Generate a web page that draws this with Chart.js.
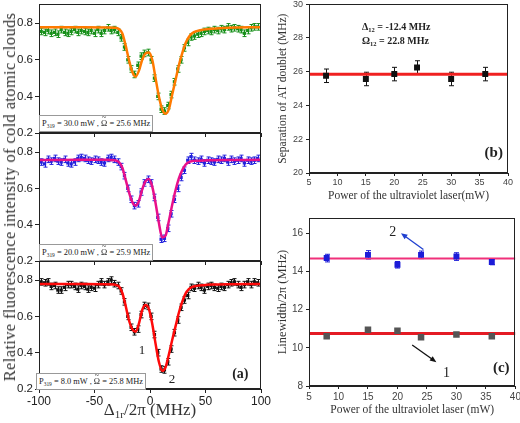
<!DOCTYPE html>
<html>
<head>
<meta charset="utf-8">
<script src="https://cdn.jsdelivr.net/npm/chart.js@4.4.0/dist/chart.umd.min.js"></script>
<style>
  body { margin: 0; background: #fff; }
  #wrap { position: relative; width: 520px; height: 423px; overflow: hidden; font-family: 'Liberation Serif', 'Times New Roman', serif; color: #333; }
  canvas { position: absolute; left: 0; top: 0; }
  .box { position: absolute; border: 1px solid #999; background: #fff; font-size: 8.4px; line-height: 15px; height: 15px; padding: 0 2px; white-space: nowrap; color: #222; }
  .box sub, .note sub, .title sub { font-size: 65%; line-height: 0; vertical-align: -0.3em; }
  .tl { position: relative; display: inline-block; }
  .tl::before { content: '~'; position: absolute; left: 0; right: 0; top: -6px; text-align: center; font-size: 8px; }
  .note { position: absolute; font-weight: bold; font-size: 10px; line-height: 13.5px; color: #222; white-space: nowrap; }
  .title { position: absolute; white-space: nowrap; color: #333; }
</style>
</head>
<body>
<div id="wrap">
  <canvas id="a1" width="520" height="423"></canvas>
  <canvas id="a2" width="520" height="423"></canvas>
  <canvas id="a3" width="520" height="423"></canvas>
  <canvas id="b" width="520" height="423"></canvas>
  <canvas id="c" width="520" height="423"></canvas>

  <div class="box" style="left:39px; top:115px;">P<sub>319</sub> = 30.0 mW , <span class="tl">Ω</span> = 25.6 MHz</div>
  <div class="box" style="left:39px; top:244px;">P<sub>319</sub> = 20.0 mW , <span class="tl">Ω</span> = 25.9 MHz</div>
  <div class="box" style="left:36px; top:373px;">P<sub>319</sub> = 8.0 mW , <span class="tl">Ω</span> = 25.8 MHz</div>

  <div class="note" style="left:362px; top:20px;">Δ<sub>12</sub> = -12.4 MHz<br>Ω<sub>12</sub> = 22.8 MHz</div>

  <div class="title" style="left:10px; top:197px; font-size:16.5px; letter-spacing:0.35px; transform: translate(-50%, -50%) rotate(-90deg);">Relative fluorescence intensity of cold atomic clouds</div>
  <div class="title" style="left:150px; top:410px; font-size:17px; transform: translate(-50%, -50%);">Δ<sub>1r</sub>/2π (MHz)</div>
</div>

<script>
// Spectra, panel (a): detuning in MHz, shared by the three measurements
const detuning = [-98, -95, -92, -89, -86, -83, -80, -77, -74, -71,
  -68, -65, -62, -59, -56, -53, -50, -47, -44, -41,
  -38, -35, -32, -29, -26, -23, -20, -17, -14, -11,
  -8, -5, -2, 1, 4, 7, 10, 13, 16, 19,
  22, 25, 28, 31, 34, 37, 40, 43, 46, 49,
  52, 55, 58, 61, 64, 67, 70, 73, 76, 79,
  82, 85, 88, 91, 94, 97];

const green30 = [0.755, 0.75, 0.76, 0.745, 0.75, 0.74, 0.765, 0.75, 0.745, 0.755,
  0.765, 0.75, 0.76, 0.755, 0.75, 0.76, 0.745, 0.765, 0.745, 0.76,
  0.775, 0.76, 0.765, 0.75, 0.72, 0.67, 0.6, 0.55, 0.52, 0.57,
  0.62, 0.635, 0.64, 0.6, 0.5, 0.4, 0.33, 0.32, 0.35, 0.41,
  0.48, 0.55, 0.6, 0.665, 0.695, 0.725, 0.73, 0.74, 0.745, 0.755,
  0.76, 0.755, 0.765, 0.76, 0.77, 0.765, 0.78, 0.77, 0.775, 0.77,
  0.765, 0.745, 0.76, 0.775, 0.78, 0.78];

const blue20 = [0.745, 0.735, 0.76, 0.75, 0.765, 0.75, 0.745, 0.76, 0.74, 0.735,
  0.745, 0.765, 0.77, 0.765, 0.755, 0.75, 0.76, 0.755, 0.745, 0.74,
  0.765, 0.77, 0.76, 0.745, 0.72, 0.67, 0.6, 0.54, 0.505, 0.515,
  0.58, 0.63, 0.65, 0.63, 0.55, 0.44, 0.32, 0.325, 0.38, 0.46,
  0.54, 0.6, 0.66, 0.7, 0.755, 0.775, 0.755, 0.75, 0.76, 0.74,
  0.755, 0.75, 0.745, 0.76, 0.755, 0.765, 0.745, 0.76, 0.75, 0.755,
  0.765, 0.74, 0.755, 0.75, 0.755, 0.765];

const black8 = [0.79, 0.785, 0.79, 0.765, 0.77, 0.745, 0.745, 0.76, 0.775, 0.775,
  0.765, 0.75, 0.77, 0.765, 0.75, 0.76, 0.755, 0.775, 0.79, 0.775,
  0.79, 0.8, 0.78, 0.77, 0.74, 0.68, 0.6, 0.54, 0.515, 0.53,
  0.61, 0.66, 0.655, 0.6, 0.5, 0.4, 0.31, 0.305, 0.35, 0.42,
  0.51, 0.58, 0.65, 0.69, 0.715, 0.76, 0.755, 0.77, 0.76, 0.745,
  0.765, 0.77, 0.76, 0.755, 0.765, 0.76, 0.775, 0.785, 0.79, 0.775,
  0.76, 0.775, 0.79, 0.775, 0.79, 0.785];

const spectrumErr = 0.018;

// Fitted curves
const fitDetuning = [-100, -60, -40, -32, -28, -25, -22, -19, -16, -13, -10, -7, -4, -1, 2, 5,
  8, 11, 14, 17, 20, 23, 26, 29, 32, 35, 38, 42, 48, 56, 70, 100];
const fitOrange30 = [0.778, 0.778, 0.777, 0.775, 0.768, 0.745, 0.68, 0.6, 0.535, 0.508, 0.54, 0.6, 0.635, 0.64, 0.6, 0.5,
  0.4, 0.33, 0.305, 0.33, 0.41, 0.49, 0.57, 0.635, 0.69, 0.725, 0.745, 0.757, 0.765, 0.77, 0.775, 0.778];
const fitMagenta20 = [0.756, 0.757, 0.757, 0.755, 0.745, 0.715, 0.65, 0.58, 0.525, 0.505, 0.53, 0.595, 0.64, 0.652, 0.61, 0.52,
  0.41, 0.33, 0.34, 0.42, 0.51, 0.59, 0.655, 0.7, 0.73, 0.745, 0.75, 0.752, 0.754, 0.755, 0.756, 0.757];
const fitRed8 = [0.778, 0.778, 0.777, 0.775, 0.765, 0.73, 0.66, 0.58, 0.53, 0.515, 0.56, 0.635, 0.662, 0.64, 0.56, 0.45,
  0.35, 0.3, 0.32, 0.39, 0.47, 0.545, 0.62, 0.68, 0.725, 0.75, 0.762, 0.768, 0.772, 0.775, 0.777, 0.778];

// Panels (b) and (c)
const powers = [8, 15, 20, 24, 30, 36];
const separation = [25.76, 25.57, 25.86, 26.25, 25.57, 25.86];
const separationErr = [0.4, 0.4, 0.4, 0.4, 0.4, 0.4];
const separationMean = 25.85;
const width2 = [14.7, 14.87, 14.35, 14.87, 14.78, 14.5];
const width2Err = [0.2, 0.22, 0.17, 0.2, 0.2, 0.15];
const width2Mean = 14.68;
const width1 = [10.6, 10.95, 10.9, 10.55, 10.7, 10.6];
const width1Err = [0.07, 0.07, 0.07, 0.07, 0.07, 0.07];
const width1Mean = 10.75;

// Tick labels
const specTicksX = [-100, -50, 0, 50, 100];
const specTicksY = [0.2, 0.4, 0.6, 0.8];
const powerTicksX = [5, 10, 15, 20, 25, 30, 35, 40];
const sepTicksY = [20, 22, 24, 26, 28, 30];
const lwTicksY = [8, 10, 12, 14, 16];

Chart.defaults.font.family = "'Liberation Sans', Arial, sans-serif";
Chart.defaults.color = '#222';

function pts(xs, ys) {
  return xs.map((x, i) => ({ x: x, y: ys[i] }));
}
function flat(y) {
  return [{ x: powerTicksX[0], y: y }, { x: powerTicksX[powerTicksX.length - 1], y: y }];
}

// error bars from dataset.errors (number or array)
const errorBars = {
  id: 'errorBars',
  beforeDatasetsDraw(chart) {
    const { ctx, scales: { x, y } } = chart;
    chart.data.datasets.forEach(ds => {
      if (ds.errors === undefined) return;
      ctx.save();
      ctx.strokeStyle = ds.borderColor;
      ctx.lineWidth = 1;
      const cap = ds.cap || 2;
      ds.data.forEach((p, j) => {
        const e = Array.isArray(ds.errors) ? ds.errors[j] : ds.errors;
        const px = Math.round(x.getPixelForValue(p.x)) + 0.5;
        const top = y.getPixelForValue(p.y + e);
        const bot = y.getPixelForValue(p.y - e);
        ctx.beginPath();
        ctx.moveTo(px, top); ctx.lineTo(px, bot);
        ctx.moveTo(px - cap, top); ctx.lineTo(px + cap, top);
        ctx.moveTo(px - cap, bot); ctx.lineTo(px + cap, bot);
        ctx.stroke();
      });
      ctx.restore();
    });
  }
};

// closed frame round the plot area
const frame = {
  id: 'frame',
  afterDraw(chart) {
    const { ctx, chartArea: a } = chart;
    ctx.save();
    ctx.strokeStyle = '#222';
    ctx.lineWidth = 1;
    ctx.strokeRect(Math.round(a.left) + 0.5, Math.round(a.top) + 0.5, Math.round(a.width) - 1, Math.round(a.height) - 1);
    ctx.restore();
  }
};

// text labels and arrows placed in data units
function makeNotes(texts, arrows) {
  return {
    id: 'notes',
    afterDraw(chart) {
      const { ctx, scales: { x, y } } = chart;
      ctx.save();
      (arrows || []).forEach(ar => {
        const x1 = x.getPixelForValue(ar.from[0]), y1 = y.getPixelForValue(ar.from[1]);
        const x2 = x.getPixelForValue(ar.to[0]), y2 = y.getPixelForValue(ar.to[1]);
        const ang = Math.atan2(y2 - y1, x2 - x1);
        ctx.strokeStyle = ar.color;
        ctx.fillStyle = ar.color;
        ctx.lineWidth = 1.3;
        ctx.beginPath();
        ctx.moveTo(x1, y1);
        ctx.lineTo(x2 - 5 * Math.cos(ang), y2 - 5 * Math.sin(ang));
        ctx.stroke();
        ctx.beginPath();
        ctx.moveTo(x2, y2);
        ctx.lineTo(x2 - 7 * Math.cos(ang - 0.4), y2 - 7 * Math.sin(ang - 0.4));
        ctx.lineTo(x2 - 7 * Math.cos(ang + 0.4), y2 - 7 * Math.sin(ang + 0.4));
        ctx.closePath();
        ctx.fill();
      });
      texts.forEach(t => {
        ctx.font = t.font;
        ctx.fillStyle = t.color || '#222';
        ctx.textAlign = 'center';
        ctx.textBaseline = 'middle';
        ctx.fillText(t.text, x.getPixelForValue(t.at[0]), y.getPixelForValue(t.at[1]));
      });
      ctx.restore();
    }
  };
}

function axis(o) {
  const s = {
    type: 'linear',
    min: o.min,
    max: o.max,
    afterBuildTicks: sc => { sc.ticks = o.ticks.map(v => ({ value: v })); },
    afterFit: sc => {
      if (sc.isHorizontal()) { sc.height = o.size; sc.paddingLeft = 0; sc.paddingRight = 0; }
      else { sc.width = o.size; sc.paddingTop = 0; sc.paddingBottom = 0; }
    },
    grid: { drawOnChartArea: false, tickLength: o.tick || 4, color: '#222' },
    border: { color: '#222' },
    ticks: {
      autoSkip: false, maxRotation: 0, padding: o.pad === undefined ? 2 : o.pad,
      font: { size: o.font }, color: o.color || '#222',
      callback: o.label || (v => v)
    },
    title: o.title
      ? { display: true, text: o.title, padding: 0, color: '#333', font: { family: "'Liberation Serif', serif", size: o.titleSize } }
      : { display: false }
  };
  s.sizeUsed = o.size;
  return s;
}

// area = [left, right, top, bottom] of the plot box in page pixels
function makeChart(id, area, x, y, datasets, notes) {
  const padding = { left: area[0] - y.sizeUsed, right: 520 - area[1], top: area[2], bottom: 423 - area[3] - x.sizeUsed };
  delete x.sizeUsed; delete y.sizeUsed;
  return new Chart(document.getElementById(id), {
    type: 'scatter',
    data: { datasets: datasets },
    options: {
      responsive: false,
      animation: false,
      devicePixelRatio: 1,
      events: [],
      layout: { padding: padding },
      plugins: { legend: { display: false }, tooltip: { enabled: false } },
      scales: { x: x, y: y }
    },
    plugins: [errorBars, frame, notes]
  });
}

function specAxes(withLabels) {
  return {
    x: axis({ min: -100, max: 100, ticks: specTicksX, size: withLabels ? 22 : 8, font: 12, pad: 1,
      label: withLabels ? (v => v) : (() => '') }),
    y: axis({ min: 0.2, max: 0.905, ticks: specTicksY, size: 37, font: 11.5, pad: 2, label: v => v.toFixed(1) })
  };
}

function spectrum(xs, ys, color, fitYs, fitColor) {
  return [
    { data: pts(fitDetuning, fitYs), showLine: true, borderColor: fitColor, borderWidth: 2.5,
      pointRadius: 0, cubicInterpolationMode: 'monotone' },
    { data: pts(xs, ys), errors: spectrumErr, cap: 2, pointStyle: 'rect', pointRadius: 2.3,
      backgroundColor: color, borderColor: color, borderWidth: 0 }
  ];
}

let ax = specAxes(false);
makeChart('a1', [39, 261, 4, 133], ax.x, ax.y,
  spectrum(detuning, green30, '#17901a', fitOrange30, '#ff7a00'), makeNotes([]));

ax = specAxes(false);
makeChart('a2', [39, 261, 133, 261], ax.x, ax.y,
  spectrum(detuning, blue20, '#2222dd', fitMagenta20, '#e8108a'), makeNotes([]));

ax = specAxes(true);
makeChart('a3', [39, 261, 261, 389], ax.x, ax.y,
  spectrum(detuning, black8, '#111', fitRed8, '#ff0a0a'),
  makeNotes([
    { at: [-7.2, 0.41], text: '1', font: "13px 'Liberation Serif'" },
    { at: [19.9, 0.25], text: '2', font: "13px 'Liberation Serif'" },
    { at: [81.4, 0.279], text: '(a)', font: "bold 14px 'Liberation Serif'" }
  ]));

// panel (b)
makeChart('b', [309, 508, 4, 173],
  axis({ min: 5, max: 40, ticks: powerTicksX, size: 30, font: 9, tick: 3, pad: 1, color: '#444',
    title: 'Power of the ultraviolet laser(mW)', titleSize: 11.5 }),
  axis({ min: 20, max: 30, ticks: sepTicksY, size: 33, font: 9, tick: 3, pad: 3, color: '#444',
    title: 'Separation of AT doublet (MHz)', titleSize: 11.5 }),
  [
    { data: pts(powers, separation), errors: separationErr, cap: 2.5, pointStyle: 'rect', pointRadius: 4.2,
      backgroundColor: '#111', borderColor: '#111', borderWidth: 0 },
    { data: flat(separationMean), showLine: true, borderColor: '#f02020', borderWidth: 3, pointRadius: 0 }
  ],
  makeNotes([{ at: [37.5, 21.2], text: '(b)', font: "bold 15px 'Liberation Serif'" }]));

// panel (c)
makeChart('c', [309, 516, 218, 386],
  axis({ min: 5, max: 40, ticks: powerTicksX, size: 31, font: 10, tick: 3, pad: 2, color: '#444',
    title: 'Power of the ultraviolet laser (mW)', titleSize: 11.5 }),
  axis({ min: 8, max: 16.8, ticks: lwTicksY, size: 34, font: 10, tick: 3, pad: 3, color: '#444',
    title: 'Linewidth/2π (MHz)', titleSize: 12.5 }),
  [
    { data: pts(powers, width2), errors: width2Err, cap: 2.5, pointStyle: 'rect', pointRadius: 4.2,
      backgroundColor: '#1c1cd8', borderColor: '#1c1cd8', borderWidth: 0 },
    { data: pts(powers, width1), errors: width1Err, cap: 2.5, pointStyle: 'rect', pointRadius: 4.6,
      backgroundColor: '#555', borderColor: '#555', borderWidth: 0 },
    { data: flat(width2Mean), showLine: true, borderColor: '#f0307a', borderWidth: 2, pointRadius: 0 },
    { data: flat(width1Mean), showLine: true, borderColor: '#e41b24', borderWidth: 3, pointRadius: 0 }
  ],
  makeNotes([
    { at: [19.2, 16.07], text: '2', font: "14px 'Liberation Serif'" },
    { at: [28.3, 8.65], text: '1', font: "14px 'Liberation Serif'" },
    { at: [37.6, 8.96], text: '(c)', font: "bold 15px 'Liberation Serif'" }
  ], [
    { from: [24.4, 15.15], to: [20.6, 16.0], color: '#2040d0' },
    { from: [22.5, 10.15], to: [26.6, 9.25], color: '#111' }
  ]));
</script>
</body>
</html>
